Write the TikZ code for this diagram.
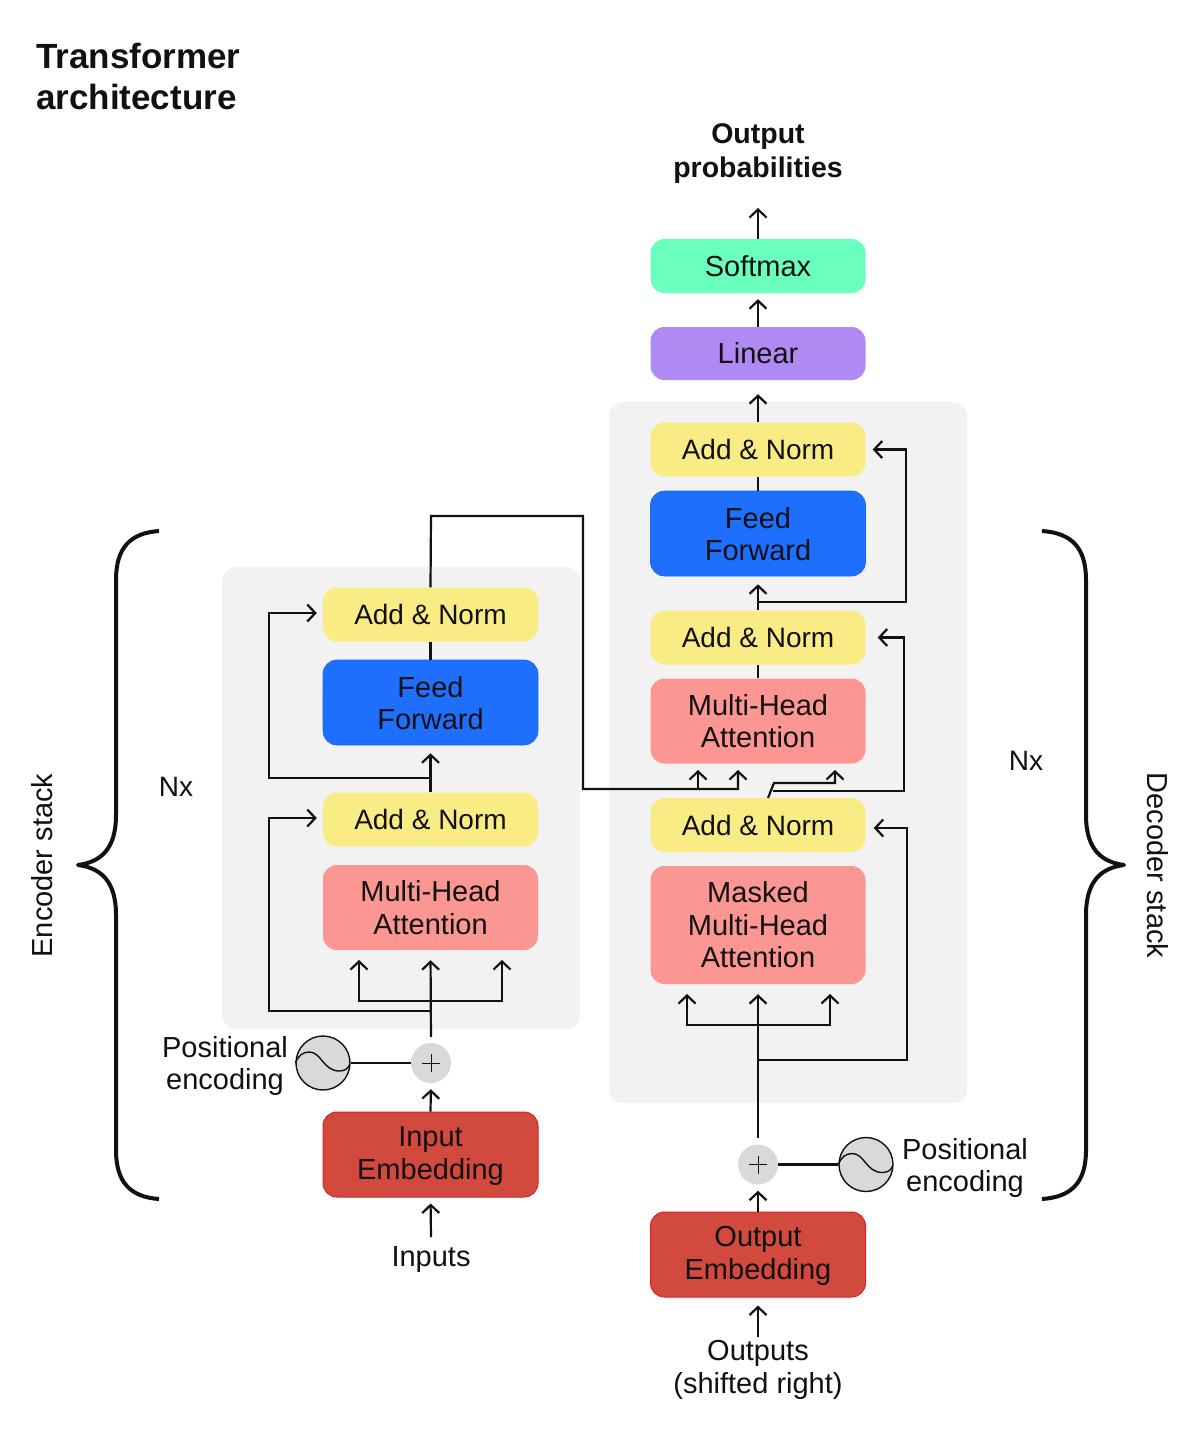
\documentclass[tikz,border=0pt]{standalone}
\usepackage{fontspec}
\setmainfont{Liberation Sans}
\usetikzlibrary{arrows.meta}
\definecolor{cyel}{HTML}{FAEC85}
\definecolor{cblu}{HTML}{1F6FFF}
\definecolor{csal}{HTML}{FB9693}
\definecolor{cred}{HTML}{D24A3D}
\definecolor{credb}{HTML}{E02020}
\definecolor{cgrn}{HTML}{6BFFBD}
\definecolor{cpur}{HTML}{B08AF2}
\definecolor{cpan}{HTML}{F2F2F2}
\definecolor{ccir}{HTML}{D9D9D9}
\definecolor{cink}{HTML}{111111}
\tikzset{
  txt/.style={font=\fontsize{29}{32.5}\selectfont,align=center,inner sep=0pt,text=cink},
  blockbox/.style={txt,rounded corners=14pt,minimum width=215pt,anchor=center},
  normbox/.style={blockbox,font=\fontsize{28}{32.5}\selectfont,fill=cyel,minimum height=54pt},
  ffbox/.style={blockbox,fill=cblu,draw=cblu!90!black,line width=.6pt,minimum height=85pt},
  attbox/.style={blockbox,fill=csal,minimum height=85pt},
  embbox/.style={blockbox,fill=cred,draw=credb,line width=1pt,minimum height=85pt},
  panel/.style={fill=cpan,rounded corners=14pt,inner sep=0pt,anchor=north west},
  plusnode/.style={circle,fill=ccir,minimum size=40pt,inner sep=0pt},
  sinenode/.style={circle,fill=ccir,draw=cink,line width=1.4pt,minimum size=54pt,inner sep=0pt},
  conn/.style={draw=cink,line width=2.2pt,line join=miter},
  arr/.style={conn,-{Straight Barb[length=8pt,width=17pt,line width=2.2pt]}},
  bracepath/.style={draw=cink,line width=4pt,line cap=butt,line join=round},
  sinewave/.style={draw=cink,line width=1.4pt},
  plusmark/.style={draw=cink,line width=.9pt},
}
\begin{document}
\begin{tikzpicture}[x=1pt,y=-1pt]
\useasboundingbox[fill=white] (0,0) rectangle (1200,1436);

% panels
\node[panel,minimum width=358pt,minimum height=462pt] (epanel) at (222,567) {};
\node[panel,minimum width=358pt,minimum height=701pt] (dpanel) at (609,402) {};

% title
\node[font=\fontsize{35}{41}\bfseries\selectfont,align=left,anchor=west,inner sep=0pt,text=cink] (title) at (36,76) {Transformer\\architecture};

% encoder blocks
\node[normbox] (enorm2) at (430.5,614.5) {Add \& Norm};
\node[ffbox] (eff) at (430.5,702.5) {\strut Feed\\Forward};
\node[normbox] (enorm1) at (430.5,819.5) {Add \& Norm};
\node[attbox] (emha) at (430.5,907.5) {Multi-Head\\Attention};
\node[embbox] (inemb) at (430.5,1154.5) {\strut Input\\Embedding};
\node[plusnode] (eplus) at (431,1063) {};
\node[sinenode] (esine) at (323,1063) {};
\node[txt] (eposl) at (225,1066) {Positional\\encoding};
\node[txt] (inputs) at (431,1260) {Inputs};

% decoder blocks
\node[blockbox,fill=cgrn,minimum height=54pt] (softmax) at (758,266) {Softmax};
\node[blockbox,fill=cpur,minimum height=53pt] (linear) at (758,353.5) {Linear};
\node[normbox] (dnorm3) at (758,449.5) {Add \& Norm};
\node[ffbox] (dff) at (758,533.5) {\strut Feed\\Forward};
\node[normbox] (dnorm2) at (758,637.5) {Add \& Norm};
\node[attbox] (dmha) at (758,721) {Multi-Head\\Attention};
\node[normbox] (dnorm1) at (758,825) {Add \& Norm};
\node[attbox,minimum height=118pt] (dmask) at (758,925) {Masked\\Multi-Head\\Attention};
\node[embbox] (outemb) at (758,1254.5) {\strut Output\\Embedding};
\node[plusnode] (dplus) at (758,1164.5) {};
\node[sinenode] (dsine) at (866,1164.5) {};
\node[txt] (dposl) at (965,1168) {Positional\\encoding};
\node[txt] (outputs) at (758,1370) {Outputs\\(shifted right)};
\node[txt,font=\fontsize{28.5}{34}\bfseries\selectfont] (outprob) at (758,154) {Output\\probabilities};
\coordinate (infree) at (431,1237);
\coordinate (outfree) at (758,1337);
\coordinate (probfree) at (758,208);

% labels
\node[txt,rotate=90] (enclab) at (42,865.5) {Encoder stack};
\node[txt,rotate=-90] (declab) at (1158,865.5) {Decoder stack};
\node[txt,font=\fontsize{28}{32}\selectfont] (enx) at (176,787) {Nx};
\node[txt,font=\fontsize{28}{32}\selectfont] (dnx) at (1026,761) {Nx};

% plus signs and sine waves
\draw[plusmark] (eplus.center) +(-9,0) -- +(9,0) (eplus.center) +(0,-9) -- +(0,9);
\draw[plusmark] (dplus.center) +(-9,0) -- +(9,0) (dplus.center) +(0,-9) -- +(0,9);
\draw[sinewave] (esine.west) .. controls +(3,-7) and +(-7,0) .. ++(14,-11) .. controls +(12,0) and +(-16,0) .. ++(30,19) .. controls +(6,0) and +(-1,3) .. ++(10,-6);
\draw[sinewave] (dsine.west) .. controls +(3,-7) and +(-7,0) .. ++(14,-11) .. controls +(12,0) and +(-16,0) .. ++(30,19) .. controls +(6,0) and +(-1,3) .. ++(10,-6);

% encoder connectors
\draw[arr,shorten >=6pt] (infree) -- (inemb.south);
\draw[arr,shorten >=6pt] (inemb.north) -- (eplus.south);
\draw[conn] (esine.east) -- (eplus.west);
\draw[arr,shorten <=6pt,shorten >=10pt] (eplus.north) -- (emha.south);
\coordinate (ej1) at (431,1011);
\coordinate (ej2) at (431,1001);
\coordinate (ej3) at (431,778);
\draw[arr,shorten >=6pt] (ej1) -- (269,1011) -- (269,818) -- ([yshift=1.5pt]enorm1.west);
\draw[arr,shorten >=10pt] (ej2) -- (359,1001) -- (359,950);
\draw[arr,shorten >=10pt] (ej2) -- (502,1001) -- (502,950);
\draw[arr,shorten >=8pt] (enorm1.north) -- (eff.south);
\draw[arr,shorten >=6pt] (ej3) -- (269,778) -- (269,613) -- ([yshift=1.5pt]enorm2.west);
\draw[conn] (eff.north) -- (enorm2.south);

% encoder to decoder
\coordinate (cross) at (698,789);
\draw[arr,shorten >=6pt] (enorm2.north) -- (431,516) -- (583,516) -- (583,789) -- (738,789) -- (738,764);
\draw[arr,shorten >=6pt] (cross) -- (698,764);

% decoder connectors
\draw[arr,shorten >=6pt] (outemb.north) -- (dplus.south);
\draw[conn] (dsine.west) -- (dplus.east);
\draw[arr,shorten <=6pt,shorten >=10pt] (dplus.north) -- (dmask.south);
\coordinate (dj1) at (758,1060);
\coordinate (dj2) at (758,1025);
\coordinate (dj3) at (758,602);
\draw[arr,shorten >=8pt] (dj1) -- (907,1060) -- (907,828) -- ([yshift=-3pt]dnorm1.east);
\draw[arr,shorten >=10pt] (dj2) -- (687,1025) -- (687,984);
\draw[arr,shorten >=10pt] (dj2) -- (830,1025) -- (830,984);
\coordinate (dn1a) at (768,798);
\coordinate (dn1b) at (772.5,791);
\draw[arr,shorten >=6pt] (dn1a) -- (774,783) -- (835,783) -- (835,764);
\draw[arr,shorten >=12pt] (dn1b) -- (904,791) -- (904,637.5) -- (dnorm2.east);
\draw[conn] (dmha.north) -- (dnorm2.south);
\draw[arr,shorten >=8pt] (dnorm2.north) -- (dff.south);
\draw[arr,shorten >=7pt] (dj3) -- (906,602) -- (906,449.5) -- (dnorm3.east);
\draw[conn] (dff.north) -- (dnorm3.south);
\draw[arr,shorten >=14pt] (dnorm3.north) -- (linear.south);
\draw[arr,shorten >=6pt] (linear.north) -- (softmax.south);
\draw[arr] (softmax.north) -- (probfree);
\draw[arr,shorten >=8pt] (outfree) -- (outemb.south);

% braces
\draw[bracepath] (159,531) .. controls (130,533) and (116,548) .. (116,580) -- (116,815)
  .. controls (116,850) and (100,862) .. (78,865)
  .. controls (100,868) and (116,880) .. (116,915) -- (116,1150)
  .. controls (116,1182) and (130,1197) .. (159,1199);
\draw[bracepath] (1042,531) .. controls (1072,533) and (1086,548) .. (1086,580) -- (1086,815)
  .. controls (1086,850) and (1102,862) .. (1124,865)
  .. controls (1102,868) and (1086,880) .. (1086,915) -- (1086,1150)
  .. controls (1086,1182) and (1072,1197) .. (1042,1199);
\end{tikzpicture}
\end{document}
